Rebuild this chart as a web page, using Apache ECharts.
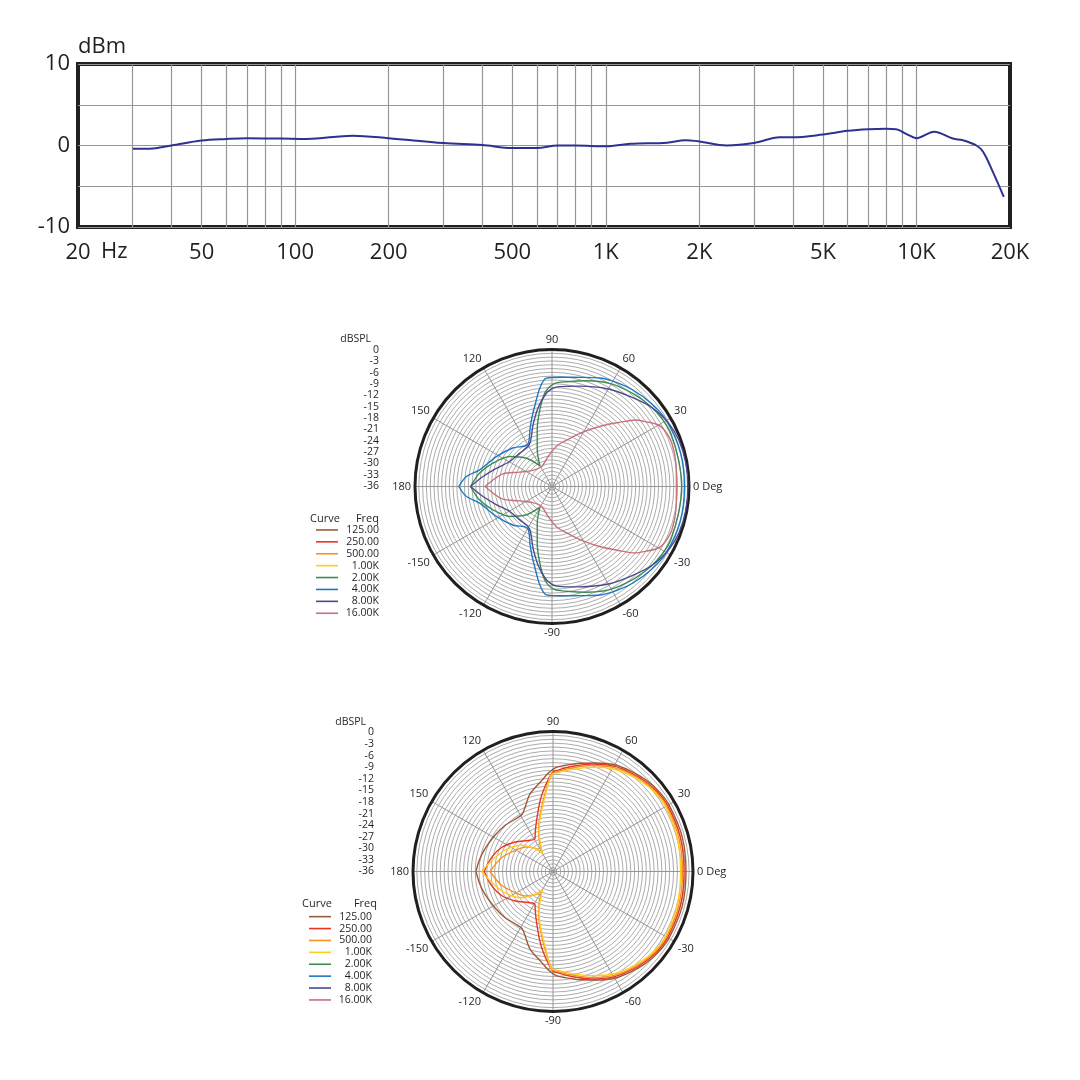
<!DOCTYPE html>
<html>
<head>
<meta charset="utf-8">
<script src="https://cdn.jsdelivr.net/npm/echarts@6/dist/echarts.min.js"></script>
<style>
  html, body { margin: 0; background: #fff; }
  #chart { width: 1080px; height: 1080px; }
</style>
</head>
<body>
<div id="chart"></div>
<script>
// frequency response (top)
const freqHz = [30,34,40,50,60,70,90,109,153,200,300,400,500,600,700,800,1000,1200,1575,1800,
  2000,2450,3000,3630,4000,5000,6000,7000,8000,8600,9300,10000,11400,13100,14100,15600,16400,17600,19100];
const levelDbm = [-0.4,-0.4,0,0.6,0.8,0.9,0.85,0.8,1.2,0.9,0.3,0.05,-0.3,-0.3,0,0,-0.1,0.2,0.35,0.65,
  0.5,0,0.3,1.0,1.0,1.35,1.8,2.0,2.05,2.0,1.4,0.9,1.7,0.85,0.65,0,-0.8,-3.2,-6.3];
const gridFreqs = [30,40,50,60,70,80,90,100,200,300,400,500,600,700,800,900,
  1000,2000,3000,4000,5000,6000,7000,8000,9000,10000];
const labelFreqs = [20,50,100,200,500,1000,2000,5000,10000,20000];

// polar curves: [angle deg, dBSPL]
const freqNames = ['125.00','250.00','500.00','1.00K','2.00K','4.00K','8.00K','16.00K'];
const freqColors = ['#9c5a3c','#ec3323','#f6921e','#ffcc22','#3c8a50','#1b78c6','#4b4a8c','#c8707c'];

// upper chart
const curve2k = [[-180,-14.6],[-169.6,-16.6],[-158.5,-19.3],[-144.6,-22.4],[-132,-26],[-120.3,-29.7],
  [-111.9,-25.6],[-104.6,-20.6],[-98.9,-15.5],[-94.3,-11.3],[-89,-9.0],[-82,-8.2],[-72,-6.8],[-57,-4.5],
  [-39,-2.6],[-24,-1.8],[0,-1.9],[24,-1.8],[39,-2.6],[57,-4.5],[72,-6.8],[82,-8.2],[89,-9.0],[94.3,-11.3],
  [98.9,-15.5],[104.6,-20.6],[111.9,-25.6],[120.3,-29.7],[132,-26],[144.6,-22.4],[158.5,-19.3],
  [169.6,-16.6],[180,-14.6]];
const curve4k = [[-180,-11.5],[-173.5,-13.3],[-167,-16.5],[-151.7,-19.4],[-135,-21.6],[-120.4,-23.3],
  [-110.5,-19.6],[-106,-17],[-101,-13.5],[-97,-9.9],[-93,-7.5],[-85,-7.2],[-75,-6.3],[-66,-4.8],[-58,-3.8],
  [-50,-2.9],[-40,-2.0],[-30,-1.3],[-15,-1.1],[0,-1.2],[15,-1.1],[30,-1.3],[40,-2.0],[50,-2.9],[58,-3.8],
  [66,-4.8],[75,-6.3],[85,-7.2],[93,-7.5],[97,-9.9],[101,-13.5],[106,-17],[110.5,-19.6],[120.4,-23.3],
  [135,-21.6],[151.7,-19.4],[167,-16.5],[173.5,-13.3],[180,-11.5]];
const curve8k = [[-180,-14.6],[-172,-17.6],[-162,-20.6],[-149.4,-23.1],[-134,-23.8],[-118,-23.4],
  [-107,-19],[-100,-15],[-94,-11.7],[-90,-10.3],[-86,-9.7],[-75,-8.7],[-60,-6.4],[-48,-4.5],[-38,-2.5],
  [-28,-1.1],[-20,-0.5],[-10,-0.3],[0,-0.3],[10,-0.3],[20,-0.5],[28,-1.1],[38,-2.5],[48,-4.5],[60,-6.4],
  [75,-8.7],[86,-9.7],[90,-10.3],[94,-11.7],[100,-15],[107,-19],[118,-23.4],[134,-23.8],[149.4,-23.1],
  [162,-20.6],[172,-17.6],[180,-14.6]];
const curve16k = [[-180,-18.4],[-166,-22.5],[-156,-26.7],[-140,-29.4],[-117.5,-30.1],[-97,-28],
  [-83,-25.2],[-72,-23.1],[-62,-20.1],[-51.3,-15.7],[-43.2,-11.3],[-38.6,-8.0],[-34.5,-6.0],[-30.5,-3.9],
  [-27,-3.0],[-20,-2.5],[-10,-2.9],[0,-3.3],[10,-2.9],[20,-2.5],[27,-3.0],[30.5,-3.9],[34.5,-6.0],
  [38.6,-8.0],[43.2,-11.3],[51.3,-15.7],[62,-20.1],[72,-23.1],[83,-25.2],[97,-28],[117.5,-30.1],
  [140,-29.4],[156,-26.7],[166,-22.5],[180,-18.4]];

// lower chart
const curve125 = [[-180,-16.2],[-172,-16.8],[-162,-17.5],[-148,-18.4],[-136,-18.9],[-126,-19.4],
  [-118.5,-19.3],[-113.5,-18.0],[-106.5,-15.2],[-97,-12.4],[-93,-10.8],[-88.5,-9.3],[-84,-8.6],[-76,-7.3],
  [-68,-5.9],[-60,-4.3],[-52,-3.3],[-45,-2.5],[-38,-1.9],[-30,-1.6],[-15,-1.6],[0,-1.8],[15,-1.6],[30,-1.6],
  [38,-1.9],[45,-2.5],[52,-3.3],[60,-4.3],[68,-5.9],[76,-7.3],[84,-8.6],[88.5,-9.3],[93,-10.8],[97,-12.4],
  [106.5,-15.2],[113.5,-18.0],[118.5,-19.3],[126,-19.4],[136,-18.9],[148,-18.4],[162,-17.5],[172,-16.8],
  [180,-16.2]];
const curve250 = [[-180,-18.3],[-167,-19.8],[-155,-21.4],[-142,-23.7],[-128.5,-25.8],[-119,-26.4],
  [-114,-24.8],[-108,-22.3],[-101,-18],[-97,-15.2],[-90.5,-10.6],[-87,-9.9],[-80,-8.6],[-70,-6.6],
  [-60,-4.7],[-52,-3.7],[-45,-2.9],[-38,-2.3],[-30,-2.0],[-15,-2.1],[0,-2.3],[15,-2.1],[30,-2.0],[38,-2.3],
  [45,-2.9],[52,-3.7],[60,-4.7],[70,-6.6],[80,-8.6],[87,-9.9],[90.5,-10.6],[97,-15.2],[101,-18],
  [108,-22.3],[114,-24.8],[119,-26.4],[128.5,-25.8],[142,-23.7],[155,-21.4],[167,-19.8],[180,-18.3]];
const curve500 = [[-180,-19.8],[-165,-22.3],[-150,-25.0],[-138,-26.6],[-128,-28.4],[-120,-30.3],
  [-115,-27.8],[-109,-24.6],[-102,-20.5],[-96,-16],[-90.5,-10.9],[-87,-10.2],[-80,-9.0],[-70,-7.0],
  [-60,-5.1],[-52,-4.0],[-45,-3.2],[-38,-2.6],[-30,-2.3],[-15,-2.5],[0,-2.7],[15,-2.5],[30,-2.3],[38,-2.6],
  [45,-3.2],[52,-4.0],[60,-5.1],[70,-7.0],[80,-9.0],[87,-10.2],[90.5,-10.9],[96,-16],[102,-20.5],
  [109,-24.6],[115,-27.8],[120,-30.3],[128,-28.4],[138,-26.6],[150,-25.0],[165,-22.3],[180,-19.8]];
const curve1k = [[-180,-17.6],[-170,-20.0],[-156,-22.5],[-140,-25.5],[-128,-28.6],[-120.2,-30.5],
  [-116,-29.0],[-109,-24.9],[-102,-20.9],[-96,-16.6],[-91,-11.1],[-87,-10.5],[-80,-9.4],[-70,-7.5],
  [-60,-5.5],[-52,-4.4],[-45,-3.5],[-38,-2.9],[-30,-2.6],[-15,-2.9],[0,-3.2],[15,-2.9],[30,-2.6],[38,-2.9],
  [45,-3.5],[52,-4.4],[60,-5.5],[70,-7.5],[80,-9.4],[87,-10.5],[91,-11.1],[96,-16.6],[102,-20.9],
  [109,-24.9],[116,-29.0],[120.2,-30.5],[128,-28.6],[140,-25.5],[156,-22.5],[170,-20.0],[180,-17.6]];

const FONT = '"Open Sans", sans-serif';
const INK = '#231f20';
const GRAY = '#969696';

function polarLine(name, polarIndex, pts) {
  const k = freqNames.indexOf(name);
  return {
    name: name,
    type: 'line',
    coordinateSystem: 'polar',
    polarIndex: polarIndex,
    data: pts.map(p => [p[1], p[0]]),
    showSymbol: false,
    smooth: 0.3,
    color: freqColors[k],
    lineStyle: { color: freqColors[k], width: 1.4 },
    z: 3
  };
}

function angleAxis(idx) {
  return {
    polarIndex: idx,
    type: 'value',
    min: -180, max: 180, interval: 30,
    startAngle: 180,
    clockwise: false,
    axisLine: { lineStyle: { color: INK, width: 3 } },
    axisTick: { show: false },
    splitLine: { lineStyle: { color: GRAY, width: 1 } },
    axisLabel: {
      margin: 4, fontSize: 11, color: INK, fontFamily: FONT,
      formatter: v => (v === 0 ? '0 Deg' : (Math.abs(v) === 180 ? '180' : String(v)))
    }
  };
}

function radiusAxis(idx) {
  return {
    polarIndex: idx,
    type: 'value',
    min: -36, max: 0, interval: 1,
    axisLine: { show: false },
    axisTick: { show: false },
    axisLabel: { show: false },
    splitLine: { lineStyle: { color: GRAY, width: 0.8 } }
  };
}

function splYAxis(idx) {
  return {
    gridIndex: idx,
    type: 'value',
    min: -36, max: 0, interval: 3,
    name: 'dBSPL',
    nameLocation: 'end',
    nameGap: 4,
    nameTextStyle: { fontSize: 10.5, color: INK, fontFamily: FONT, align: 'right', padding: [0, 11, 0, 0] },
    axisLine: { show: false },
    axisTick: { show: false },
    splitLine: { show: false },
    axisLabel: { fontSize: 10.5, color: INK, fontFamily: FONT, margin: 3 }
  };
}

function legendBox(left, top) {
  return {
    data: freqNames,
    orient: 'vertical',
    left: left, top: top,
    padding: 0, itemGap: 0,
    itemWidth: 22, itemHeight: 1.6,
    icon: 'rect',
    selectedMode: false,
    formatter: '{r|{name}}',
    textStyle: {
      fontSize: 10.5, color: INK, fontFamily: FONT, lineHeight: 11.9,
      rich: { r: { width: 36, align: 'right', fontSize: 10.5, lineHeight: 11.9, fontFamily: FONT, color: INK } }
    }
  };
}

function label(x, y, text, size, align) {
  return {
    type: 'text', x: x, y: y,
    style: { text: text, fontSize: size, fontFamily: FONT, fill: INK, align: align, verticalAlign: 'middle' }
  };
}

const option = {
  backgroundColor: '#fff',
  animation: false,
  grid: [
    { left: 78, top: 64, width: 932, height: 163, show: true, borderColor: INK, borderWidth: 4, backgroundColor: 'transparent' },
    { left: 382, top: 350, width: 10, height: 136 },
    { left: 377, top: 732.5, width: 10, height: 139 }
  ],
  xAxis: [
    {
      gridIndex: 0, type: 'log', logBase: 10, min: 20, max: 20000,
      axisLine: { show: false },
      axisTick: { show: false, customValues: gridFreqs },
      splitLine: { show: true, lineStyle: { color: GRAY, width: 1.2 } },
      axisLabel: {
        customValues: labelFreqs, fontSize: 22, color: INK, fontFamily: FONT, margin: 15,
        formatter: v => (v >= 1000 ? (v / 1000) + 'K' : String(v))
      }
    },
    { gridIndex: 1, type: 'value', show: false },
    { gridIndex: 2, type: 'value', show: false }
  ],
  yAxis: [
    {
      gridIndex: 0, type: 'value', min: -10, max: 10, interval: 5,
      name: 'dBm', nameLocation: 'end', nameGap: 6,
      nameTextStyle: { fontSize: 22, color: INK, fontFamily: FONT, align: 'left', verticalAlign: 'bottom' },
      axisLine: { show: false },
      axisTick: { show: false },
      splitLine: { lineStyle: { color: GRAY, width: 1.2 } },
      axisLabel: {
        fontSize: 22, color: INK, fontFamily: FONT, margin: 8,
        formatter: v => (v % 10 === 0 ? String(v) : '')
      }
    },
    splYAxis(1),
    splYAxis(2)
  ],
  polar: [
    { center: [552, 486.5], radius: 137 },
    { center: [553, 871.5], radius: 140 }
  ],
  angleAxis: [angleAxis(0), angleAxis(1)],
  radiusAxis: [radiusAxis(0), radiusAxis(1)],
  legend: [legendBox(316, 524), legendBox(309, 910.7)],
  graphic: [
    label(101, 252, 'Hz', 22, 'left'),
    label(310, 519, 'Curve', 11, 'left'),
    label(379, 519, 'Freq', 11, 'right'),
    label(302, 904, 'Curve', 11, 'left'),
    label(377, 904, 'Freq', 11, 'right')
  ],
  series: [
    {
      type: 'line', xAxisIndex: 0, yAxisIndex: 0,
      data: freqHz.map((f, i) => [f, levelDbm[i]]),
      smooth: 0.35, showSymbol: false,
      lineStyle: { color: '#2e3192', width: 2 },
      z: 3
    },
    polarLine('2.00K', 0, curve2k),
    polarLine('4.00K', 0, curve4k),
    polarLine('8.00K', 0, curve8k),
    polarLine('16.00K', 0, curve16k),
    polarLine('125.00', 1, curve125),
    polarLine('250.00', 1, curve250),
    polarLine('500.00', 1, curve500),
    polarLine('1.00K', 1, curve1k)
  ]
};

const chart = echarts.init(document.getElementById('chart'), null, { renderer: 'canvas' });
chart.setOption(option);
</script>
</body>
</html>
